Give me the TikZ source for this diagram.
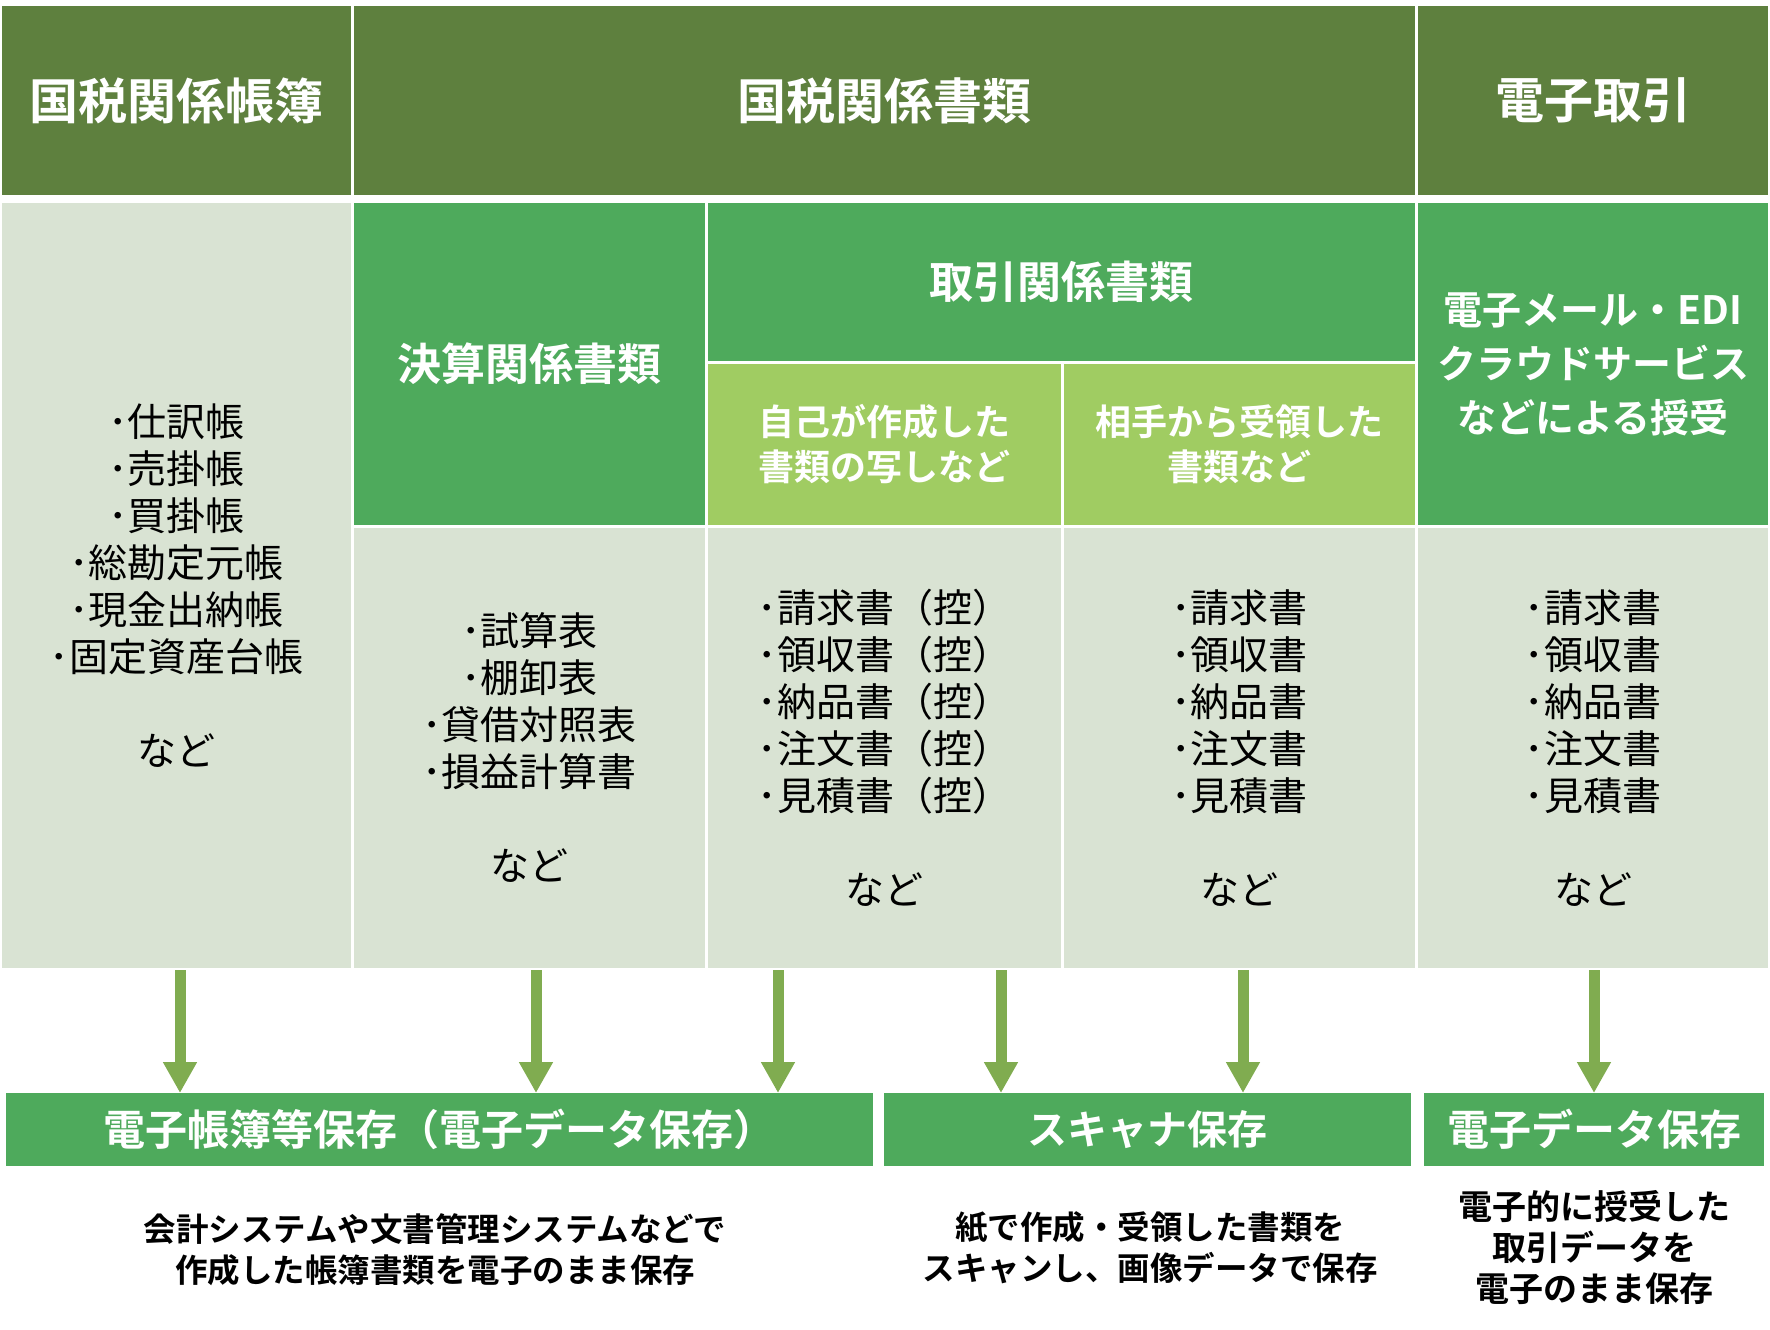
\documentclass[tikz,border=0pt]{standalone}
\usepackage{fontspec}
\setmainfont{Noto Sans CJK JP}[BoldFont={Noto Sans CJK JP Bold}]
\usetikzlibrary{arrows.meta}

\definecolor{hdrgreen}{HTML}{5E803E}
\definecolor{midgreen}{HTML}{4EAA5C}
\definecolor{lightgreen}{HTML}{A0CC62}
\definecolor{cellgray}{HTML}{D9E3D3}
\definecolor{arrowgreen}{HTML}{80AC50}

\begin{document}
\begin{tikzpicture}[x=1pt, y=-1pt,
    cell/.style={rectangle, inner sep=0pt, outer sep=0pt, anchor=north west, align=center},
    top/.style={cell, fill=hdrgreen, text=white, minimum height=189pt, font=\fontsize{49}{58}\selectfont\bfseries},
    sub/.style={cell, fill=midgreen, text=white, font=\fontsize{44}{54}\selectfont\bfseries},
    subsub/.style={cell, fill=lightgreen, text=white, minimum height=161pt, font=\fontsize{36}{45}\selectfont\bfseries},
    items/.style={cell, fill=cellgray, text=black, font=\fontsize{39}{47}\selectfont},
    store/.style={cell, fill=midgreen, text=white, minimum height=73pt, font=\fontsize{42}{48}\selectfont\bfseries},
    note/.style={align=center, text=black, font=\fontsize{32.5}{41}\selectfont\bfseries},
    arr/.style={arrowgreen, line width=11pt, -{Triangle[width=32pt,length=31pt]}}]
    \useasboundingbox (0,0) rectangle (1770,1330);

    % top row
    \node[top, minimum width=349pt]  (hbooks) at (2,6)    {国税関係帳簿};
    \node[top, minimum width=1061pt] (hdocs)  at (354,6)  {国税関係書類};
    \node[top, minimum width=350pt]  (hedi)   at (1418,6) {電子取引};

    % second row
    \node[items, minimum width=349pt, minimum height=765pt] (books) at (2,203)
        {･仕訳帳\\･売掛帳\\･買掛帳\\･総勘定元帳\\･現金出納帳\\･固定資産台帳\\[47pt]など};
    \node[sub, minimum width=351pt, minimum height=322pt] (kessan) at (354,203) {決算関係書類};
    \node[sub, minimum width=707pt, minimum height=158pt] (torihiki) at (708,203) {取引関係書類};
    \node[subsub, minimum width=353pt] (jiko)  at (708,364)  {自己が作成した\\書類の写しなど};
    \node[subsub, minimum width=351pt] (aite)  at (1064,364) {相手から受領した\\書類など};
    \node[sub, minimum width=350pt, minimum height=322pt, font=\fontsize{39}{54}\selectfont\bfseries] (mail) at (1418,203)
        {電子メール・EDI\\クラウドサービス\\などによる授受};

    % contents
    \node[items, minimum width=351pt, minimum height=440pt] (kessanlist) at (354,528)
        {･試算表\\･棚卸表\\･貸借対照表\\･損益計算書\\[47pt]など};
    \node[items, minimum width=353pt, minimum height=440pt] (jikolist) at (708,528)
        {･請求書（控）\\･領収書（控）\\･納品書（控）\\･注文書（控）\\･見積書（控）\\[47pt]など};
    \node[items, minimum width=351pt, minimum height=440pt] (aitelist) at (1064,528)
        {･請求書\\･領収書\\･納品書\\･注文書\\･見積書\\[47pt]など};
    \node[items, minimum width=350pt, minimum height=440pt] (maillist) at (1418,528)
        {･請求書\\･領収書\\･納品書\\･注文書\\･見積書\\[47pt]など};

    % storage boxes
    \node[store, minimum width=867pt] (denshi) at (6,1093)    {電子帳簿等保存（電子データ保存）};
    \node[store, minimum width=527pt, font=\fontsize{40}{48}\selectfont\bfseries] (scan) at (884,1093) {スキャナ保存};
    \node[store, minimum width=340pt] (data)   at (1424,1093) {電子データ保存};

    \node[note] (denshinote) at (435,1250) {会計システムや文書管理システムなどで\\作成した帳簿書類を電子のまま保存};
    \node[note] (scannote)   at (1150,1248) {紙で作成・受領した書類を\\スキャンし、画像データで保存};
    \node[note, font=\fontsize{34}{41}\selectfont\bfseries] (datanote) at (1594,1248) {電子的に授受した\\取引データを\\電子のまま保存};

    % arrows
    \coordinate (a1) at (180,970);
    \coordinate (a2) at (536,970);
    \coordinate (a3) at (778,970);
    \coordinate (a4) at (1001,970);
    \coordinate (a5) at (1243,970);
    \coordinate (a6) at (1594,970);
    \draw[arr] (a1) -- (denshi.north -| a1);
    \draw[arr] (a2) -- (denshi.north -| a2);
    \draw[arr] (a3) -- (denshi.north -| a3);
    \draw[arr] (a4) -- (scan.north -| a4);
    \draw[arr] (a5) -- (scan.north -| a5);
    \draw[arr] (a6) -- (data.north -| a6);
\end{tikzpicture}
\end{document}
